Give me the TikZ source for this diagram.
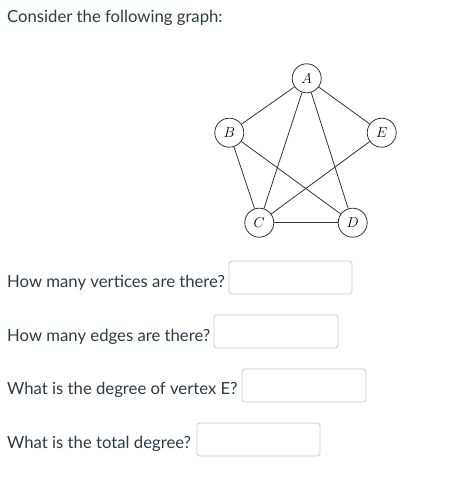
\documentclass[tikz,border=0pt]{standalone}
\usepackage{fontspec}
\setmainfont{Lato}
\definecolor{txt}{HTML}{2D3B45}
\definecolor{boxc}{HTML}{C7CDD1}
\definecolor{edgec}{HTML}{333333}
\begin{document}
\begin{tikzpicture}[x=1pt,y=-1pt,
  vert/.style={circle,draw=edgec,line width=0.8pt,minimum size=29pt,inner sep=0pt,fill=white,font=\fontsize{13.5}{15}\selectfont},
  edge/.style={draw=edgec,line width=0.8pt},
  qtext/.style={anchor=base west,inner sep=0pt,text=txt,font=\fontsize{16.7}{19}\selectfont},
  ansbox/.style={draw=boxc,line width=0.8pt,rounded corners=3pt}]
\useasboundingbox (0,0) rectangle (470,479);
\node[qtext] (title) at (7,22) {Consider the following graph:};
% graph
\node[vert] (A) at (306.7,78.3) {$A$};
\node[vert] (B) at (229.3,132.7) {$B$};
\node[vert] (E) at (381.7,132.7) {$E$};
\node[vert] (C) at (259.3,222.7) {$C$};
\node[vert] (D) at (352.7,222.7) {$D$};
\draw[edge] (A) -- (B);
\draw[edge] (A) -- (E);
\draw[edge] (A) -- (C);
\draw[edge] (A) -- (D);
\draw[edge] (B) -- (C);
\draw[edge] (B) -- (D);
\draw[edge] (E) -- (C);
\draw[edge] (C) -- (D);
% questions
\node[qtext] (q1) at (7,287) {How many vertices are there?};
\draw[ansbox] (229,261) rectangle (352,294);
\node[qtext] (q2) at (7,341) {How many edges are there?};
\draw[ansbox] (214,315) rectangle (338,348);
\node[qtext] (q3) at (7,394.5) {What is the degree of vertex E?};
\draw[ansbox] (242,369) rectangle (366,402);
\node[qtext] (q4) at (7,448.5) {What is the total degree?};
\draw[ansbox] (197,423) rectangle (320,456);
\end{tikzpicture}
\end{document}
